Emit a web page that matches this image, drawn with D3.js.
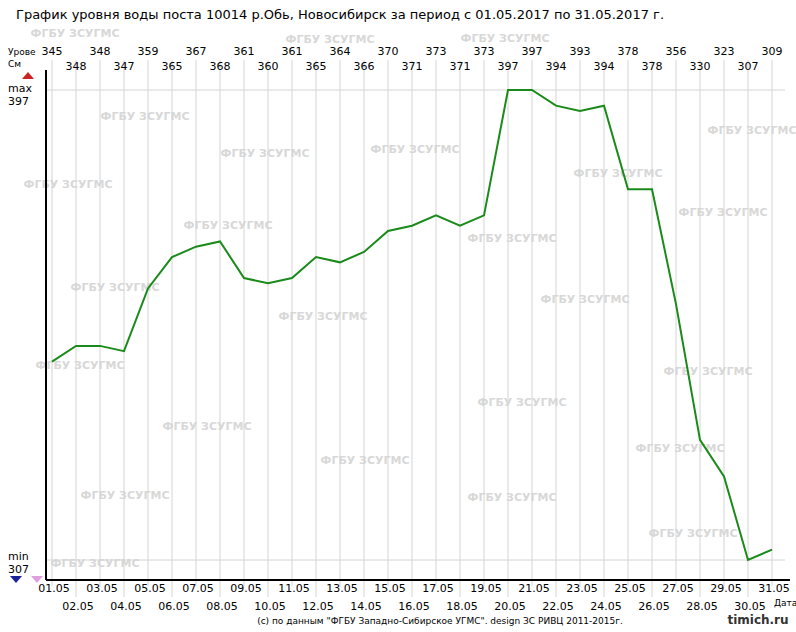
<!DOCTYPE html>
<html><head><meta charset="utf-8">
<script src="https://cdn.jsdelivr.net/npm/d3@7"></script>
<style>body{margin:0;background:#fff}text{font-family:"DejaVu Sans",sans-serif}</style>
</head><body><div id="chart"></div>
<script>
// water level, cm, 01.05 .. 31.05
var days = d3.range(1, 32);
var levels = [345,348,348,347,359,365,367,368,361,360,361,365,364,366,370,371,373,371,373,397,397,394,393,394,378,378,356,330,323,307,309];
var dayLabels = days.map(d => (d < 10 ? "0" + d : d) + ".05");
var levelMax = 397, levelMin = 307;
var watermarks = [[75,37],[330,43],[505,42],[145,120],[265,157],[415,153],[68,188],[618,177],[228,229],[512,242],[723,216],[115,291],[585,303],[323,320],[80,369],[708,375],[522,406],[207,430],[365,464],[680,452],[125,499],[512,501],[693,537],[95,567],[752,134]];

var svgWidth = 796, svgHeight = 632;
var svg = d3.select("#chart").append("svg").attr("width", svgWidth).attr("height", svgHeight);

var x = d3.scaleLinear().domain([1, 31]).range([52, 772]);
var y = d3.scaleLinear().domain([levelMin, levelMax]).range([560, 90]);

// watermarks
svg.selectAll(".wm").data(watermarks).enter().append("text")
    .attr("x", d => d[0]).attr("y", d => d[1]).attr("text-anchor", "middle")
    .attr("font-size", 11).attr("font-weight", "bold").attr("fill", "#d8d8d8").text("ФГБУ ЗСУГМС");

// grid
svg.selectAll(".vg").data(days).enter().append("line")
    .attr("x1", d => x(d)).attr("x2", d => x(d)).attr("y1", 60).attr("y2", d => d % 2 ? 586 : 597)
    .attr("stroke", "#d4d4d4");
svg.selectAll(".hg").data([levelMax, levelMin]).enter().append("line")
    .attr("x1", 46).attr("x2", 785).attr("y1", d => y(d)).attr("y2", d => y(d)).attr("stroke", "#d4d4d4");

// axes
svg.append("line").attr("x1", 46).attr("x2", 46).attr("y1", 70).attr("y2", 580).attr("stroke", "#000").attr("stroke-width", 2);
svg.append("line").attr("x1", 46).attr("x2", 790).attr("y1", 580).attr("y2", 580).attr("stroke", "#000").attr("stroke-width", 2);

// line
svg.append("path").datum(levels)
    .attr("d", d3.line().x((d, i) => x(days[i])).y(d => y(d)))
    .attr("fill", "none").attr("stroke", "#1a8a1a").attr("stroke-width", 2);

// value labels on top (staggered)
svg.selectAll(".vl").data(levels).enter().append("text")
    .attr("x", (d, i) => x(days[i])).attr("y", (d, i) => i % 2 ? 70 : 55)
    .attr("text-anchor", "middle").attr("font-size", 11).attr("fill", "#000").text(d => d);

// date labels (staggered)
svg.selectAll(".dl").data(dayLabels).enter().append("text")
    .attr("x", (d, i) => x(days[i]) + 2).attr("y", (d, i) => i % 2 ? 610 : 592)
    .attr("text-anchor", "middle").attr("font-size", 11).attr("fill", "#000").text(d => d);

// title and misc text
svg.append("text").attr("x", 340).attr("y", 19).attr("text-anchor", "middle").attr("font-size", 13)
    .text("График уровня воды поста 10014 р.Обь, Новосибирск за период с 01.05.2017 по 31.05.2017 г.");
svg.append("text").attr("x", 8).attr("y", 55).attr("font-size", 9).text("Урове");
svg.append("text").attr("x", 8).attr("y", 67).attr("font-size", 9).text("См");
svg.append("text").attr("x", 8).attr("y", 92).attr("font-size", 11).text("max");
svg.append("text").attr("x", 8).attr("y", 105).attr("font-size", 11).text("397");
svg.append("text").attr("x", 8).attr("y", 560).attr("font-size", 11).text("min");
svg.append("text").attr("x", 8).attr("y", 573).attr("font-size", 11).text("307");
svg.append("path").attr("d", "M22,79 L34,79 L28,72 Z").attr("fill", "#cc2222");
svg.append("path").attr("d", "M10,576 L22,576 L16,583 Z").attr("fill", "#1a2299");
svg.append("path").attr("d", "M31,576 L43,576 L37,583 Z").attr("fill", "#e0a0e0");
svg.append("text").attr("x", 774).attr("y", 606).attr("font-size", 9).text("Дата");
svg.append("text").attr("x", 440).attr("y", 624).attr("text-anchor", "middle").attr("font-size", 9)
    .text("(c) по данным \"ФГБУ Западно-Сибирское УГМС\". design ЗС РИВЦ 2011-2015г.");
svg.append("text").attr("x", 758).attr("y", 624).attr("text-anchor", "middle").attr("font-size", 12)
    .attr("font-weight", "bold").attr("fill", "#333").text("timich.ru");
</script></body></html>
